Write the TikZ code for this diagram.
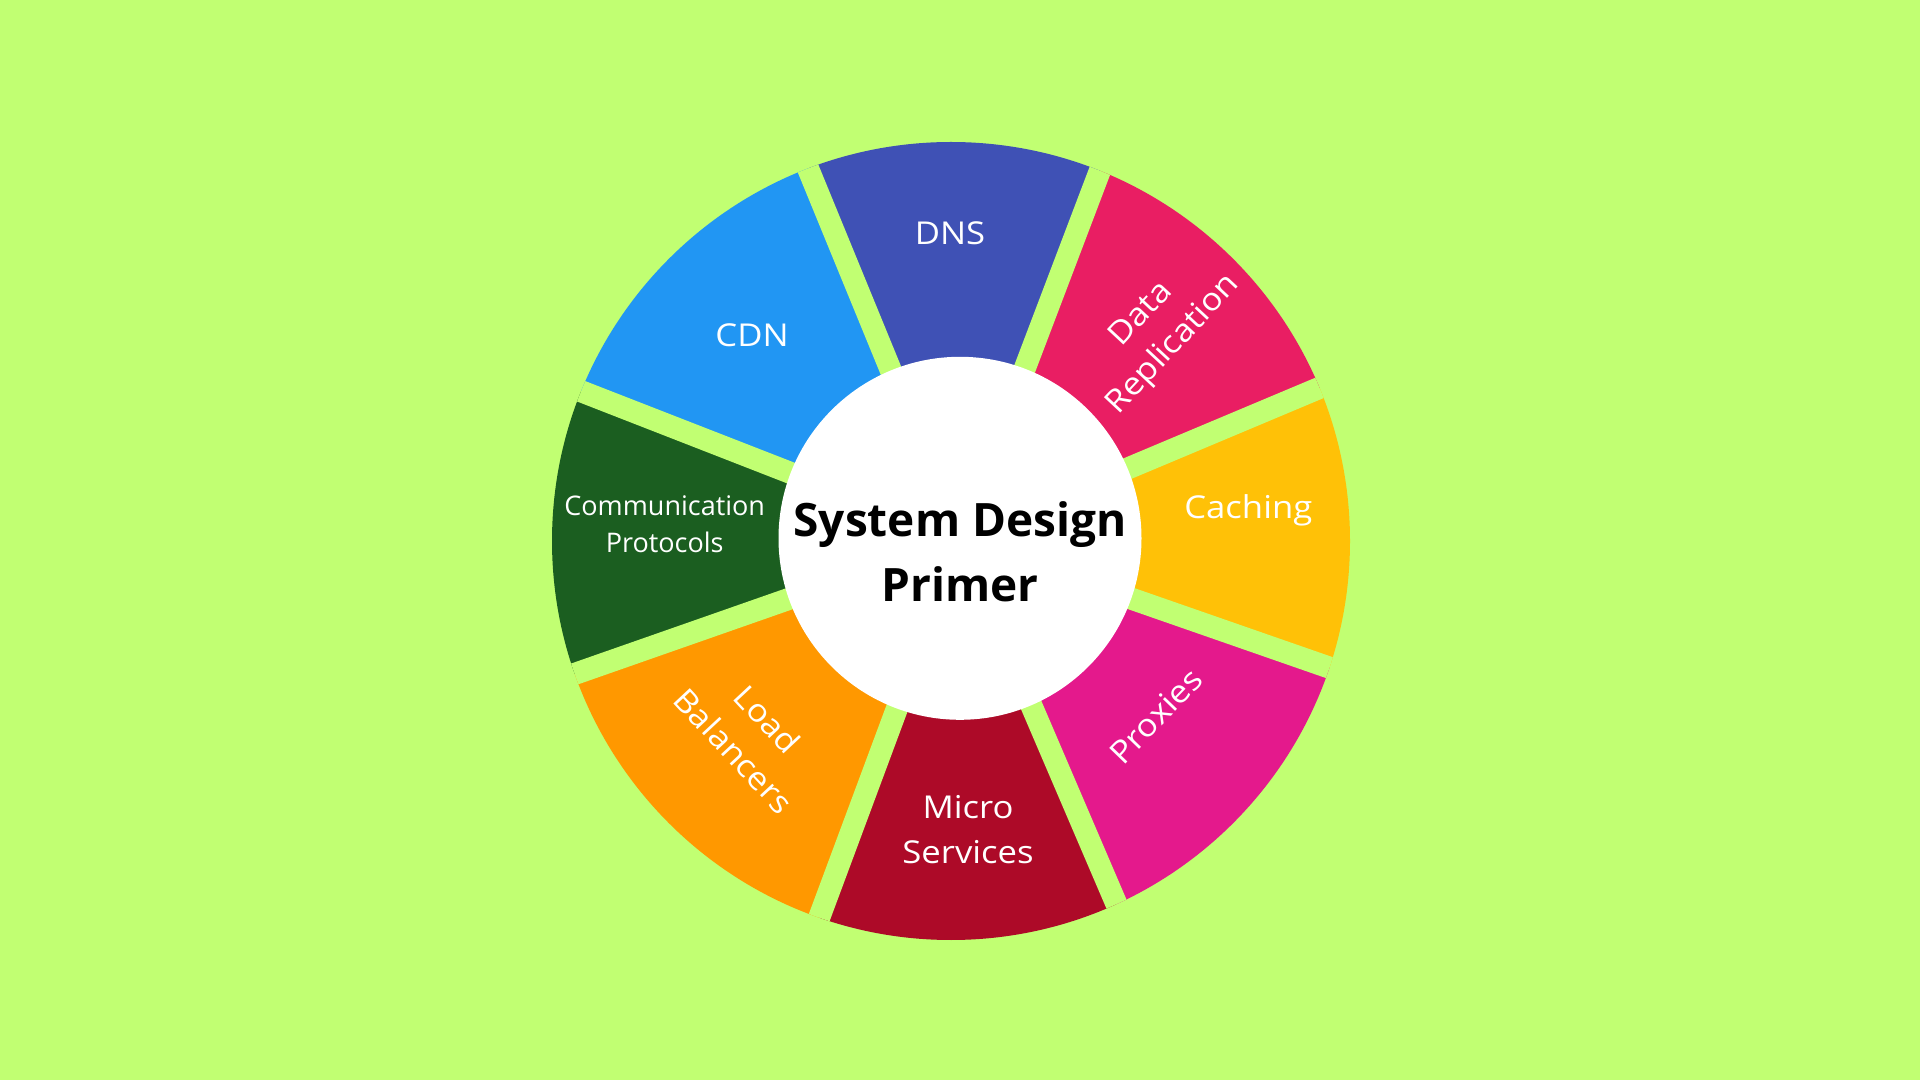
\documentclass[tikz,border=0pt]{standalone}
\usepackage{fontspec}
\setmainfont{Open Sans}
\newfontfamily\lblfont[FakeStretch=1.1]{Open Sans}
\definecolor{bg}{HTML}{C1FF72}
\definecolor{cdns}{HTML}{3F51B5}
\definecolor{ccdn}{HTML}{2196F3}
\definecolor{cdr}{HTML}{E91E63}
\definecolor{ccache}{HTML}{FFC107}
\definecolor{cproxy}{HTML}{E4198C}
\definecolor{cmicro}{HTML}{AD0A28}
\definecolor{clb}{HTML}{FF9800}
\definecolor{ccomm}{HTML}{1B5E20}
\begin{document}
\begin{tikzpicture}[x=1pt,y=1pt,
  lbl/.style={text=white, font=\lblfont\fontsize{31.5}{44}\selectfont, align=center, inner sep=0pt},
  gapline/.style={draw=bg, line width=22pt},
  seg/.style={fill=#1}]
\useasboundingbox (0,0) rectangle (1920,1080);
\fill[bg] (0,0) rectangle (1920,1080);
\begin{scope}[shift={(960,541)}]
  \begin{scope}
    \clip (-9,-2) circle (399);
    \fill[seg=cdns]   (0,0) -- (69.2:700) -- (90.75:700) -- (112.3:700) -- cycle;
    \fill[seg=ccdn]   (0,0) -- (112.3:700) -- (135.5:700) -- (158.7:700) -- cycle;
    \fill[seg=ccomm]  (0,0) -- (158.7:700) -- (179:700) -- (199.3:700) -- cycle;
    \fill[seg=clb]    (0,0) -- (199.3:700) -- (224.45:700) -- (249.6:700) -- cycle;
    \fill[seg=cmicro] (0,0) -- (249.6:700) -- (271.4:700) -- (293.2:700) -- cycle;
    \fill[seg=cproxy] (0,0) -- (293.2:700) -- (317:700) -- (340.8:700) -- cycle;
    \fill[seg=ccache] (0,0) -- (-19.2:700) -- (1.8:700) -- (22.8:700) -- cycle;
    \fill[seg=cdr]    (0,0) -- (22.8:700) -- (46:700) -- (69.2:700) -- cycle;
    \foreach \a in {112.3,69.2,22.8,-19.2,-66.8,-110.4,199.3,158.7}
      \draw[gapline] (0,0) -- (\a:700);
  \end{scope}
  \fill[white] (0,0.7) circle (181.5);
\end{scope}
\node[lbl, anchor=base] (dns) at (950,835.7) {DNS};
\node[lbl, anchor=base] (cdn) at (752,733.3) {CDN};
\node[lbl, anchor=base] (caching) at (1248.3,561) {Caching};
\node[lbl, font=\lblfont\fontsize{31.5}{45}\selectfont] (micro) at (968,250) {Micro\\Services};
\node[lbl, rotate=47] (datarep) at (1158,750) {Data\\Replication};
\node[lbl, rotate=46] (proxies) at (1155.7,364) {Proxies};
\node[lbl, rotate=-47, font=\lblfont\fontsize{31.5}{46}\selectfont] (lb) at (750.8,345) {Load\\Balancers};
\node[lbl, font=\fontsize{27}{36.7}\selectfont] (comm) at (664.7,556) {Communication\\Protocols};
\node[align=center, inner sep=0pt, text=black, font=\fontsize{46}{65}\selectfont\bfseries] (title) at (960,528.6) {System Design\\Primer};
\end{tikzpicture}
\end{document}
